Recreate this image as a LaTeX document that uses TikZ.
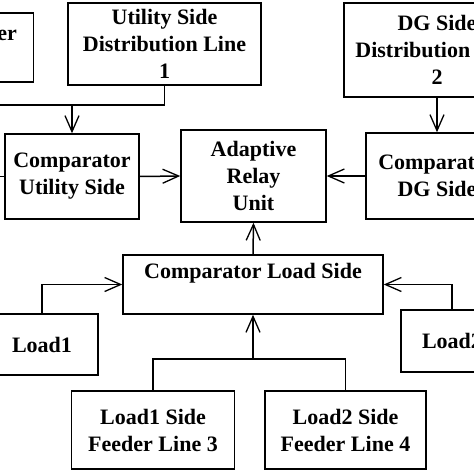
\documentclass[tikz,border=0pt]{standalone}
\usepackage{fontspec}
\setmainfont{Liberation Serif}
\usetikzlibrary{arrows.meta}

\begin{document}
\begin{tikzpicture}[x=1pt,y=-1pt,
                blk/.style={draw,line width=1.5pt,align=center,inner sep=0pt,
                    font=\fontsize{22}{27}\selectfont\bfseries},
                wire/.style={line width=1.5pt},
                flow/.style={wire,-{Straight Barb[length=16pt,width=14pt,line width=1.3pt]}}]
                \useasboundingbox (0,0) rectangle (474,474);
                \clip (0,0) rectangle (474,474);
                \node[blk,minimum width=93pt,minimum height=69pt] (src) at (-13,47.5) {};
                \node[anchor=east,inner sep=0pt,font=\fontsize{22}{27}\selectfont\bfseries] (srctxt) at (17,35) {er};
                \node[blk,minimum width=193pt,minimum height=82pt] (util) at (164.5,44) {Utility Side\\Distribution Line\\1};
                \node[blk,minimum width=186pt,minimum height=94pt] (dg) at (437,50) {DG Side\\Distribution Line\\2};
                \node[blk,minimum width=134pt,minimum height=85pt] (compU) at (72,176.5) {Comparator\\Utility Side};
                \node[blk,minimum width=145pt,minimum height=92pt] (aru) at (253.5,176) {Adaptive\\Relay\\Unit};
                \node[blk,minimum width=142pt,minimum height=86pt] (compDG) at (437,176) {Comparator\\DG Side};
                \node[blk,minimum width=260pt,minimum height=59pt] (compL) at (253,284.5) {Comparator Load Side\\\mbox{}};
                \node[blk,minimum width=112pt,minimum height=61pt] (load1) at (42,344.5) {Load1};
                \node[blk,minimum width=102pt,minimum height=62pt] (load2) at (452,341) {Load2};
                \node[blk,minimum width=163pt,minimum height=78pt] (feed1) at (153,430) {Load1 Side\\Feeder Line 3};
                \node[blk,minimum width=161pt,minimum height=78pt] (feed2) at (345.5,430) {Load2 Side\\Feeder Line 4};
                \coordinate (jU) at (72,105);
                \coordinate (offU) at (-10,105);
                \coordinate (offC) at (-10,176.5);
                \coordinate (jF) at (253,359);
                \draw[wire] (util.south) |- (jU) -- (offU);
                \draw[flow] (jU) -- (compU.north);
                \draw[wire] (offC) -- (compU.west);
                \draw[flow] (compU.east) -- (aru.west);
                \draw[flow] (dg.south) -- (compDG.north);
                \draw[flow] (compDG.west) -- (aru.east);
                \draw[flow] (compL.north) -- (aru.south);
                \draw[flow] (load1.north) |- (compL.west);
                \draw[flow] (load2.north) |- (compL.east);
                \draw[wire] (feed1.north) |- (jF) -| (feed2.north);
                \draw[flow] (jF) -- (compL.south);
            \end{tikzpicture}
\end{document}
